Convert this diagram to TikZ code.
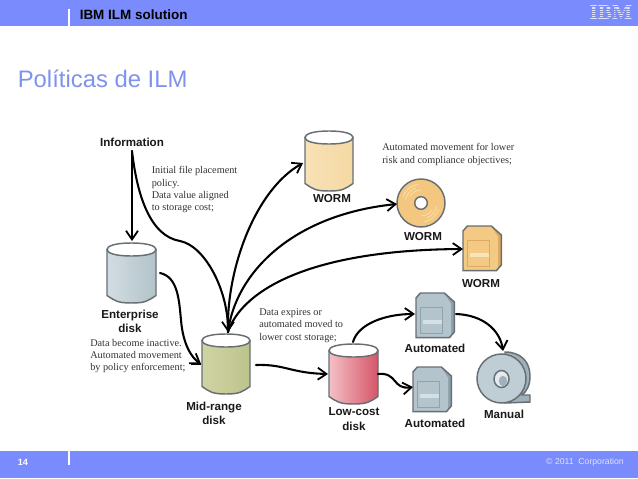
\documentclass[tikz,border=0pt]{standalone}
\usepackage{fontspec}
\setmainfont{Liberation Sans}
\newfontfamily\serifface{Liberation Serif}
\usetikzlibrary{arrows.meta}
\definecolor{bandblue}{HTML}{7A8CFD}
\definecolor{titleblue}{HTML}{7F92EC}
\definecolor{footlight}{HTML}{DDE1FC}
\definecolor{edgegray}{HTML}{686F73}
\definecolor{wormL}{HTML}{F7E1B6}\definecolor{wormM}{HTML}{EFC077}\definecolor{wormR}{HTML}{F5D9A3}
\definecolor{entL}{HTML}{D2DDE2}\definecolor{entM}{HTML}{9CB0BA}\definecolor{entR}{HTML}{B2C3CA}
\definecolor{midL}{HTML}{D0D4A4}\definecolor{midM}{HTML}{A4AD6C}\definecolor{midR}{HTML}{BDC38C}
\definecolor{lowL}{HTML}{F4C0C6}\definecolor{lowM}{HTML}{DC6274}\definecolor{lowR}{HTML}{D55567}
\definecolor{discface}{HTML}{F3C77F}\definecolor{discring}{HTML}{F9DDA8}
\definecolor{cartO}{HTML}{F3C983}\definecolor{cartOd}{HTML}{DDAA62}\definecolor{cartOs}{HTML}{F9E3BC}
\definecolor{cartG}{HTML}{B4C4CC}\definecolor{cartGd}{HTML}{8FA3AD}\definecolor{cartGs}{HTML}{D5E0E5}
\definecolor{reelF}{HTML}{BFCDD4}\definecolor{reelB}{HTML}{9FB1BA}
\newcommand{\pxfont}[2]{\fontsize{#1pt}{#2pt}\selectfont}
% cylinder: name, x0, ytop, x1, ybot, left, middle, right
\newcommand{\cyl}[8]{%
  \pgfmathsetmacro{\xm}{(#2+#4)/2}%
  \pgfmathsetmacro{\yA}{#3+6.5}%
  \pgfmathsetmacro{\yB}{#5-7.5}%
  \pgfmathsetmacro{\kx}{(#4-#2)*0.28}%
  \path[draw=edgegray,line width=1.1pt,left color=#6,middle color=#7,right color=#8]
    (#2,\yA) -- (#2,\yB) .. controls (#2+\kx*0.6,#5-2) and (\xm-\kx,#5) .. (\xm,#5)
    .. controls (\xm+\kx,#5) and (#4-\kx*0.6,#5-2) .. (#4,\yB) -- (#4,\yA) -- cycle;
  \draw[edgegray,line width=1.1pt,fill=white]
    (\xm,#3) .. controls (\xm+\kx*1.2,#3) and (#4,#3+3) .. (#4,\yA)
    .. controls (#4,#3+10) and (\xm+\kx*1.2,#3+13) .. (\xm,#3+13)
    .. controls (\xm-\kx*1.2,#3+13) and (#2,#3+10) .. (#2,\yA)
    .. controls (#2,#3+3) and (\xm-\kx*1.2,#3) .. (\xm,#3) -- cycle;
  \coordinate (#1) at (\xm,{(#3+#5)/2});%
}
% cartridge: name, x, y (top left), face, side, stripe
\newcommand{\cart}[6]{%
  \begin{scope}[shift={(#2,#3)},scale=1/3]
    \fill[#4] (0,134) -- (0,15) -- (13,0) -- (85,0) -- (115,27) -- (115,117) -- (100,134) -- cycle;
    \fill[#5] (105,134) -- (105,32) -- (85,0) -- (115,27) -- (115,117) -- (100,134) -- cycle;
    \draw[#5,line width=.6pt] (12,42) rectangle (78,122);
    \fill[#6] (20,82) rectangle (77,93);
    \draw[edgegray,line width=1.1pt]
      (0,134) -- (0,15) -- (13,0) -- (85,0) -- (115,27) -- (115,117) -- (100,134) -- cycle;
    \coordinate (#1) at (57,67);
  \end{scope}%
}
\tikzset{
  flow/.style={draw=black,line width=1.55pt,line cap=round,-{Straight Barb[length=6.5pt,width=9pt,line width=1.35pt]}},
  iconlabel/.style={font=\bfseries\pxfont{8.7}{10.6},align=center,inner sep=0pt,text=black!90},
  note/.style={font=\serifface\pxfont{7.7}{9.2},align=left,anchor=north west,inner sep=0pt,text=black!80},
  band/.style={fill=bandblue,draw=none}
}
\begin{document}
\begin{tikzpicture}[x=0.75pt,y=-0.75pt]
\useasboundingbox (0,0) rectangle (638,478);
\fill[white] (0,0) rectangle (638,478);
% bands
\fill[band] (0,0) rectangle (638,26.5);
\fill[band] (0,451) rectangle (638,478);
\draw[white,line width=1pt] (69,9) -- (69,27);
\draw[white,line width=1pt] (69,451) -- (69,465);
\node[font=\bfseries\pxfont{10.1}{12},anchor=west,inner sep=0pt,text=black] (hdr) at (79.5,14.5) {IBM ILM solution};
\node[font=\pxfont{17.9}{21},anchor=west,inner sep=0pt,text=titleblue] (title) at (17.5,78.5) {Políticas de ILM};
\node[font=\bfseries\pxfont{6.8}{8},anchor=west,inner sep=0pt,text=white] (pageno) at (17.5,462) {14};
\node[font=\pxfont{6.5}{8},anchor=east,inner sep=0pt,text=footlight] (copy) at (624,462) {© 2011\ \ Corporation};
% IBM logo
\node[font=\serifface\bfseries\pxfont{16}{18},anchor=center,inner sep=0pt,text=footlight] (logo) at (611,13) {IBM};
\foreach \yy in {6.8,8.9,11,13.1,15.2,17.3,19.4}
  \draw[bandblue,line width=.55pt] (588,\yy) -- (634,\yy);
% cylinders
\cyl{worma}{305}{131}{353}{191}{wormL}{wormM}{wormR}
\cyl{ent}{107}{243}{156}{303}{entL}{entM}{entR}
\cyl{mid}{202}{334}{250}{394}{midL}{midM}{midR}
\cyl{low}{329}{344}{378}{404}{lowL}{lowM}{lowR}
% disc
\fill[discface] (421,203) circle (24);
\foreach \rr/\aa/\bb in {19/20/80,16/10/70,13/30/90,19/200/260,16/190/250,13/210/270}
  \draw[discring,line width=.7pt] (421,203) ++(\aa:\rr) arc (\aa:\bb:\rr);
\draw[edgegray,line width=1.1pt] (421,203) circle (24);
\draw[edgegray,line width=1.1pt,fill=white] (421,203) circle (6.3);
\coordinate (discc) at (421,203);
% cartridges
\cart{wormb}{463}{226}{cartO}{cartOd}{cartOs}
\cart{autoa}{416}{293}{cartG}{cartGd}{cartGs}
\cart{autob}{413}{367}{cartG}{cartGd}{cartGs}
% reel
\draw[edgegray,line width=1.1pt,fill=reelB] (505,352) .. controls (521,352) and (530,362) .. (530,376)
  .. controls (530,385) and (527,391) .. (522,395) -- (530,395) -- (530,402) -- (505,403) -- cycle;
\draw[edgegray,line width=1.1pt,fill=reelF] (501.5,378.5) circle (24.5);
\draw[edgegray,line width=1.1pt,fill=white!60!reelF] (501.5,379) ellipse (7.5 and 8.5);
\fill[reelB] (503,381) ellipse (4.2 and 5.2);
\coordinate (reelc) at (505,378);
% labels
\node[iconlabel] (linfo) at (132,142) {Information};
\node[iconlabel] (lworma) at (332,199) {WORM};
\node[iconlabel] (lwormb) at (423,237) {WORM};
\node[iconlabel] (lwormc) at (481,283.5) {WORM};
\node[iconlabel] (lent) at (130,321) {Enterprise\\disk};
\node[iconlabel] (lmid) at (214,413.5) {Mid-range\\disk};
\node[iconlabel] (llow) at (354,419) {Low-cost\\disk};
\node[iconlabel] (lautoa) at (435,348.5) {Automated};
\node[iconlabel] (lautob) at (435,423) {Automated};
\node[iconlabel] (lman) at (504,414) {Manual};
% notes
\node[note] (n1) at (151.5,166.5) {Initial file placement\\policy.\\Data value aligned\\to storage cost;};
\node[note] (n2) at (382,143.5) {Automated movement for lower\\risk and compliance objectives;};
\node[note] (n3) at (259,308.5) {Data expires or\\automated moved to\\lower cost storage;};
\node[note] (n4) at (90,339) {Data become inactive.\\Automated movement\\by policy enforcement;};
% connector anchors
\coordinate (infosrc) at (132,151);
\coordinate (entin) at (132,241);
\coordinate (hub) at (228,332);
\coordinate (wormain) at (303,163);
\coordinate (discin) at (397,204);
\coordinate (wormbin) at (463,249);
\coordinate (entout) at (160,273);
\coordinate (midin) at (201,364);
\coordinate (midtail) at (191,364);
\coordinate (midout) at (256,365);
\coordinate (lowin) at (328,374);
\coordinate (lowouta) at (353,342);
\coordinate (lowoutb) at (378,374);
\coordinate (autoain) at (415,314);
\coordinate (autobin) at (413,387);
\coordinate (autoaout) at (456,314);
\coordinate (reelin) at (503,351);
% connectors
\draw[flow] (infosrc) -- (entin);
\draw[flow] (infosrc) .. controls (137,195) and (150,236) .. (180,241)
  .. controls (205,246) and (228,290) .. (hub);
\draw[flow] (hub) .. controls (226,270) and (255,190) .. (wormain);
\draw[flow] (hub) .. controls (235,275) and (290,215) .. (discin);
\draw[flow] (hub) .. controls (240,295) and (300,250) .. (wormbin);
\draw[flow] (entout) .. controls (178,277) and (179,300) .. (181,320)
  .. controls (183,345) and (192,358) .. (midin);
\draw[black,line width=1.35pt] (midtail) -- (midin);
\draw[flow] (midout) .. controls (285,364) and (290,373) .. (lowin);
\draw[flow] (lowouta) .. controls (358,324) and (385,314) .. (autoain);
\draw[flow] (lowoutb) .. controls (398,372) and (392,390) .. (autobin);
\draw[flow] (autoaout) .. controls (483,315) and (500,330) .. (reelin);
\end{tikzpicture}
\end{document}
